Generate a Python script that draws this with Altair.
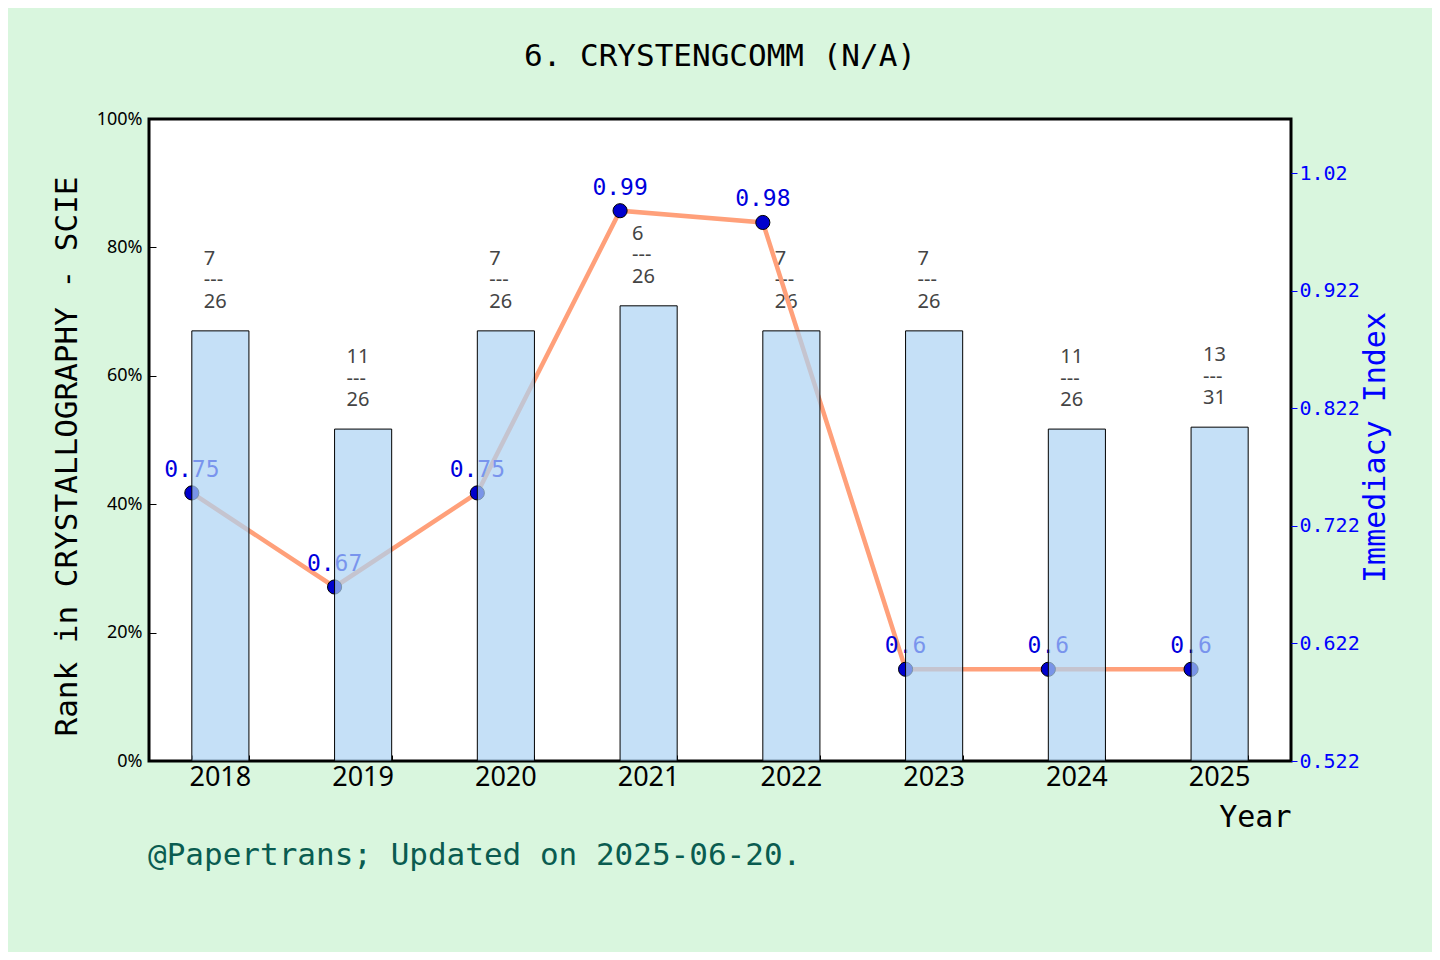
import altair as alt
import pandas as pd

years = ["2018", "2019", "2020", "2021", "2022", "2023", "2024", "2025"]
rank_share = [0.67, 0.517, 0.67, 0.709, 0.67, 0.67, 0.517, 0.52]
ranks = [7, 11, 7, 6, 7, 7, 11, 13]
totals = [26, 26, 26, 26, 26, 26, 26, 31]
immediacy = [0.75, 0.67, 0.75, 0.99, 0.98, 0.6, 0.6, 0.6]
left_ticks = [0, 0.2, 0.4, 0.6, 0.8, 1.0]
right_ticks = [0.522, 0.622, 0.722, 0.822, 0.922, 1.022]

title_text = "6. CRYSTENGCOMM (N/A)"
footer_text = "@Papertrans; Updated on 2025-06-20."

df = pd.DataFrame({
    "year": years,
    "share": rank_share,
    "rank_text": [f"{r}\n---\n{t}" for r, t in zip(ranks, totals)],
    "imm": immediacy,
    "imm_text": [f"{v:g}" for v in immediacy],
})

W, H = 1142, 642
MONO = "DejaVu Sans Mono"

xscale = alt.Scale(type="band", paddingInner=0.6, paddingOuter=0.3)
yleft = alt.Scale(domain=[0, 1], nice=False, zero=True)
yright = alt.Scale(domain=[0.522, 1.068], nice=False, zero=False)

base = alt.Chart(df)

# rank annotations (under the line) + inward ticks on bottom and left edges
ann = base.mark_text(
    align="left", baseline="alphabetic", dx=12, dy=-66, lineBreak="\n",
    font="Noto Sans", fontSize=20, lineHeight=21.5, color="#444444",
).encode(
    x=alt.X("year:N", scale=xscale, bandPosition=0,
            axis=alt.Axis(orient="top", offset=-H, labels=False, domain=False,
                          ticks=True, tickBand="extent", tickSize=6,
                          tickColor="black", tickWidth=1, grid=False, title=None)),
    y=alt.Y("share:Q", scale=yleft,
            axis=alt.Axis(orient="right", offset=-W, labels=False, domain=False,
                          ticks=True, tickSize=7, tickColor="black", tickWidth=1,
                          values=left_ticks, grid=False, title=None)),
    text="rank_text:N",
)

line = base.mark_line(color="#FFA07A", strokeWidth=4.5).encode(
    x=alt.X("year:N", scale=xscale, bandPosition=0, axis=None),
    y=alt.Y("imm:Q", scale=yright,
            axis=alt.Axis(orient="right", values=right_ticks, format=".3g",
                          domain=False, ticks=True, tickSize=6, tickColor="#0000FF",
                          tickWidth=1, labelColor="#0000FF", labelFont=MONO,
                          labelFontSize=20, labelPadding=2, grid=False,
                          title="Immediacy Index", titleColor="#0000FF",
                          titleFont=MONO, titleFontSize=30, titleFontWeight="normal",
                          titleAngle=270, titleX=84, titleY=328,
                          titleAlign="center", titleBaseline="middle")),
)

pts = base.mark_circle(size=200, color="#0000CD", stroke="black",
                       strokeWidth=1, opacity=1).encode(
    x=alt.X("year:N", scale=xscale, bandPosition=0, axis=None),
    y=alt.Y("imm:Q", scale=yright, axis=None),
)

lbl = base.mark_text(font=MONO, fontSize=23, color="#0000DD",
                     baseline="alphabetic", align="center", dy=-16).encode(
    x=alt.X("year:N", scale=xscale, bandPosition=0, axis=None),
    y=alt.Y("imm:Q", scale=yright, axis=None),
    text="imm_text:N",
)

bars = base.mark_bar(fill="#acd3f4", fillOpacity=0.7, stroke="black",
                     strokeWidth=1).encode(
    x=alt.X("year:N", scale=xscale,
            axis=alt.Axis(orient="bottom", domain=False, ticks=False, tickSize=0,
                          labelFont="Noto Sans", labelFontSize=27, labelColor="black",
                          labelPadding=3, labelAngle=0, grid=False,
                          title="Year", titleFont=MONO, titleFontSize=30,
                          titleFontWeight="normal", titleColor="black",
                          titleX=W, titleY=56, titleAlign="right",
                          titleBaseline="middle")),
    y=alt.Y("share:Q", scale=yleft,
            axis=alt.Axis(orient="left", values=left_ticks, format=".0%",
                          domain=False, ticks=False, tickSize=0,
                          labelFont="Noto Sans", labelFontSize=18, labelColor="black",
                          labelPadding=7, grid=False,
                          title="Rank in CRYSTALLOGRAPHY - SCIE", titleFont=MONO,
                          titleFontSize=31, titleFontWeight="normal",
                          titleColor="black", titleAngle=270, titleX=-82, titleY=337,
                          titleAlign="center", titleBaseline="middle")),
)

footer = alt.Chart(pd.DataFrame({"t": [footer_text]})).mark_text(
    font=MONO, fontSize=31, color="#0a5c50", align="left", baseline="middle",
).encode(x=alt.value(-1), y=alt.value(737), text="t:N")

chart = alt.layer(ann, line, pts, lbl, bars, footer).resolve_scale(
    y="independent"
).resolve_axis(
    x="independent", y="independent"
).properties(
    width=W, height=H,
    padding={"left": 141, "top": 111, "right": 141, "bottom": 191},
    autosize=alt.AutoSizeParams(type="none"),
    background="#d9f6de",
    title=alt.TitleParams(title_text, font=MONO, fontSize=31, fontWeight="normal",
                          color="black", anchor="middle", offset=37),
).configure_view(fill="white", stroke="black", strokeWidth=3)

chart.save("out.html", embed_options={"renderer": "svg", "actions": False})
